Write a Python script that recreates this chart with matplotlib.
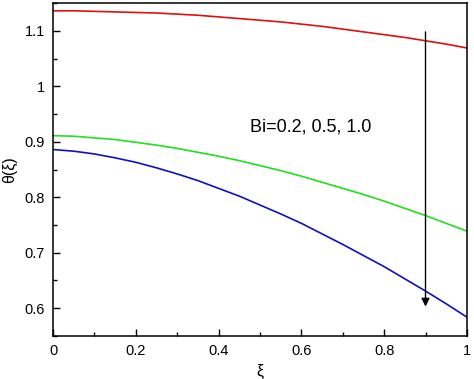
import matplotlib
matplotlib.use('Agg')
import matplotlib.pyplot as plt
from matplotlib.ticker import MultipleLocator, FuncFormatter

plt.rcParams['font.family'] = ['Liberation Sans', 'DejaVu Sans']

xi = [0.00, 0.05, 0.10, 0.15, 0.20, 0.25, 0.30, 0.35, 0.40, 0.45, 0.50,
      0.55, 0.60, 0.65, 0.70, 0.75, 0.80, 0.85, 0.90, 0.95, 1.00]

theta_red = [1.136, 1.136, 1.135, 1.134, 1.133, 1.132, 1.130, 1.128, 1.125, 1.122, 1.119,
             1.116, 1.112, 1.108, 1.103, 1.098, 1.093, 1.088, 1.082, 1.076, 1.069]
theta_green = [0.911, 0.910, 0.907, 0.904, 0.899, 0.894, 0.888, 0.881, 0.874, 0.866, 0.857,
               0.848, 0.838, 0.827, 0.816, 0.805, 0.793, 0.780, 0.767, 0.753, 0.739]
theta_blue = [0.886, 0.883, 0.878, 0.871, 0.863, 0.853, 0.842, 0.830, 0.816, 0.802, 0.786,
              0.770, 0.753, 0.734, 0.715, 0.695, 0.675, 0.653, 0.631, 0.608, 0.584]

arrow_x = 0.9
arrow_top = 1.098
arrow_tip = 0.603
label = 'Bi=0.2, 0.5, 1.0'

fig = plt.figure(figsize=(4.74, 3.79), dpi=100)
ax = fig.add_axes([0.112, 0.1135, 0.873, 0.8785])

ax.plot(xi, theta_red, color='#e01010', lw=1.2)
ax.plot(xi, theta_green, color='#20e020', lw=1.2)
ax.plot(xi, theta_blue, color='#1010c0', lw=1.2)

ax.annotate('', xy=(arrow_x, arrow_tip), xytext=(arrow_x, arrow_top),
            arrowprops=dict(arrowstyle='-|>', color='black', lw=1.0,
                            mutation_scale=12, shrinkA=0, shrinkB=0))
ax.text(0.476, 0.927, label, fontsize=13, va='center', ha='left')

ax.set_xlim(0, 1)
ax.set_ylim(0.55, 1.15)
ax.xaxis.set_major_locator(MultipleLocator(0.2))
ax.xaxis.set_minor_locator(MultipleLocator(0.1))
ax.yaxis.set_major_locator(MultipleLocator(0.1))
ax.yaxis.set_minor_locator(MultipleLocator(0.05))
fmt = FuncFormatter(lambda v, p: '%g' % round(v, 2))
ax.xaxis.set_major_formatter(fmt)
ax.yaxis.set_major_formatter(fmt)
ax.tick_params(which='both', direction='in', top=False, right=False, labelsize=10.5, width=1.0)
ax.tick_params(which='major', length=5, pad=6)
ax.tick_params(which='minor', length=3)
for s in ax.spines.values():
    s.set_linewidth(1.1)

ax.set_xlabel('ξ', fontsize=11.5, labelpad=4)
ax.set_ylabel('θ(ξ)', fontsize=11.5, va='center')
ax.yaxis.set_label_coords(-0.105, 0.5)

fig.savefig('out.png', dpi=100)
